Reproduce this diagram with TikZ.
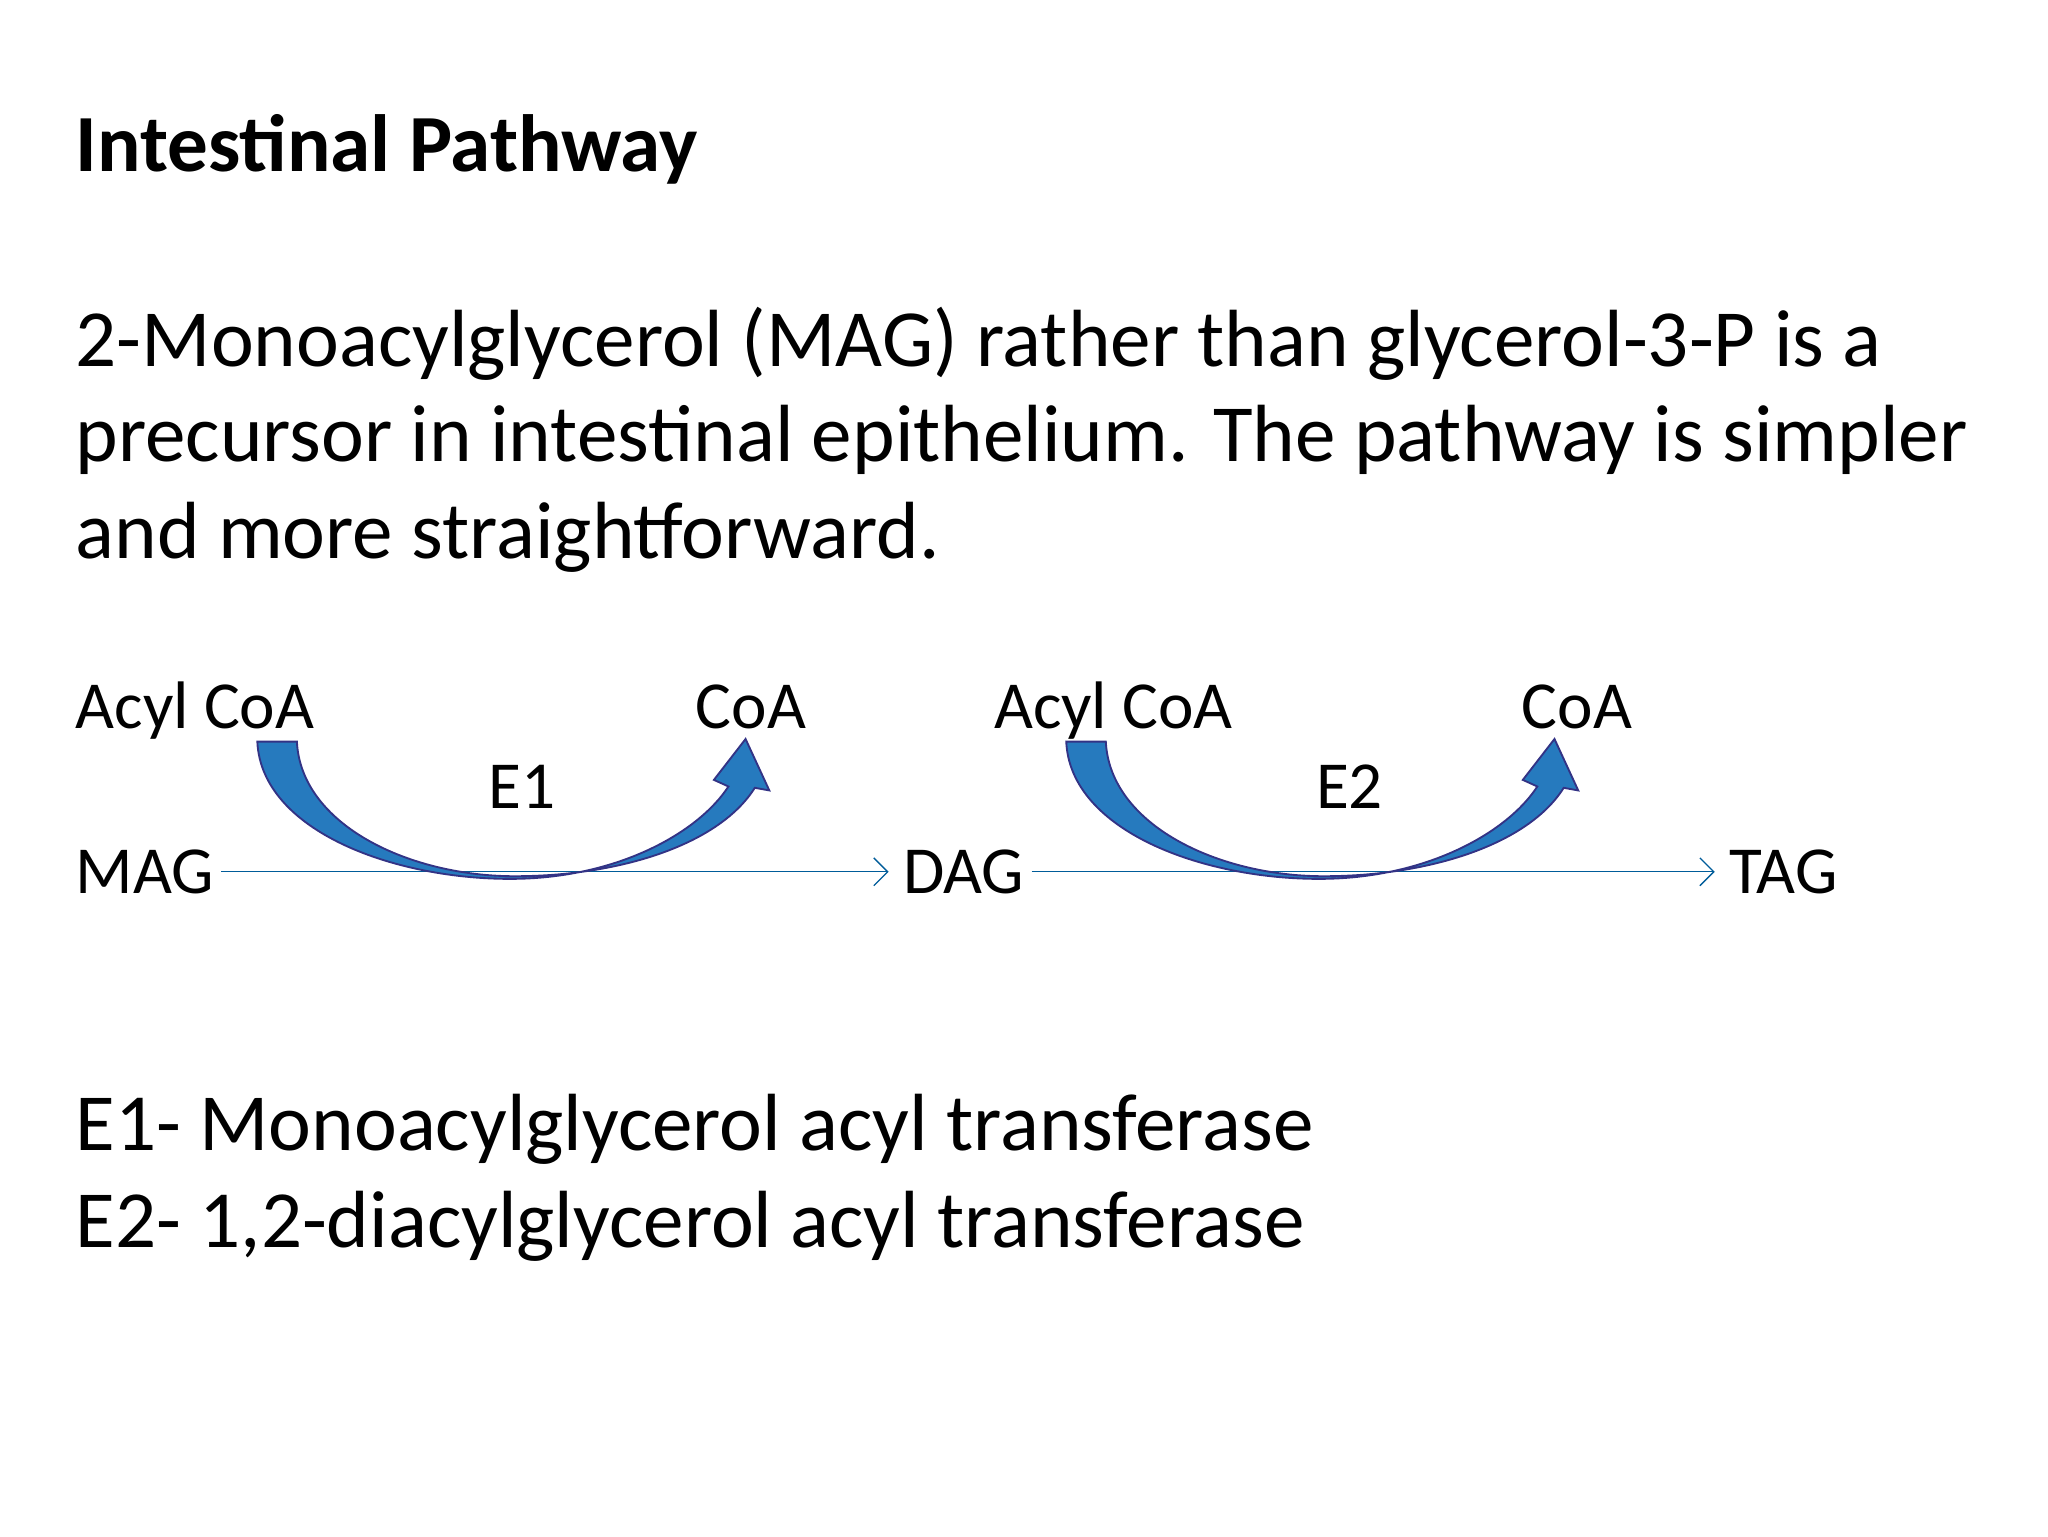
\documentclass[tikz,border=0pt]{standalone}
\usepackage{fontspec}
\setmainfont{Carlito}
\usetikzlibrary{arrows.meta}
\begin{document}
\begin{tikzpicture}[x=0.02cm,y=-0.02cm,
    txt/.style={anchor=base west,inner sep=0pt,font=\fontsize{35}{42}\selectfont},
    lbl/.style={anchor=base west,inner sep=0pt,font=\fontsize{29}{34}\selectfont},
    rxn/.style={draw=blue!40!cyan!60!black,line width=0.6pt,-{Straight Barb[length=6pt]},
        shorten <=3pt,shorten >=6pt},
    bendarrow/.style={fill=blue!45!cyan!70!black!85,draw=blue!40!black!80,line width=0.8pt}]
    \useasboundingbox (0,0) rectangle (1552,1164);
    \begin{scope} % Heading and text
        \node[txt,font=\bfseries\fontsize{35}{42}\selectfont] (title) at (57,130) {Intestinal Pathway};
        \node[txt] (line1) at (57,278) {2-Monoacylglycerol (MAG) rather than glycerol-3-P is a};
        \node[txt] (line2) at (57,350) {precursor in intestinal epithelium. The pathway is simpler};
        \node[txt] (line3) at (57,423) {and more straightforward.};
        \node[txt] (enz1) at (57,872) {E1- Monoacylglycerol acyl transferase};
        \node[txt] (enz2) at (57,945) {E2- 1,2-diacylglycerol acyl transferase};
    \end{scope}
    \begin{scope} % Substrates and products
        \node[lbl] (mag) at (57,677) {MAG};
        \node[lbl] (dag) at (684,677) {DAG};
        \node[lbl] (tag) at (1310,677) {TAG};
        \node[lbl] (acyl1) at (57,552) {Acyl CoA};
        \node[lbl] (coa1) at (527,552) {CoA};
        \node[lbl] (e1) at (370,613) {E1};
        \node[lbl] (acyl2) at (753,552) {Acyl CoA};
        \node[lbl] (coa2) at (1153,552) {CoA};
        \node[lbl] (e2) at (997,613) {E2};
        \draw[rxn] (mag.east) -- (dag.west);
        \draw[rxn] (dag.east) -- (tag.west);
    \end{scope}
    \foreach \dx in {0,613} { % Acyl CoA in, CoA out
        \begin{scope}[xshift=\dx*0.02cm]
            \draw[bendarrow] (195,562) .. controls (198,630) and (300,667) .. (390,666)
                .. controls (470,665) and (530,630) .. (552,596)
                -- (541,591) -- (565,560) -- (583,599) -- (572,597)
                .. controls (545,640) and (470,664) .. (390,664)
                .. controls (310,664) and (228,625) .. (225,562) -- cycle;
        \end{scope}
    }
\end{tikzpicture}
\end{document}
